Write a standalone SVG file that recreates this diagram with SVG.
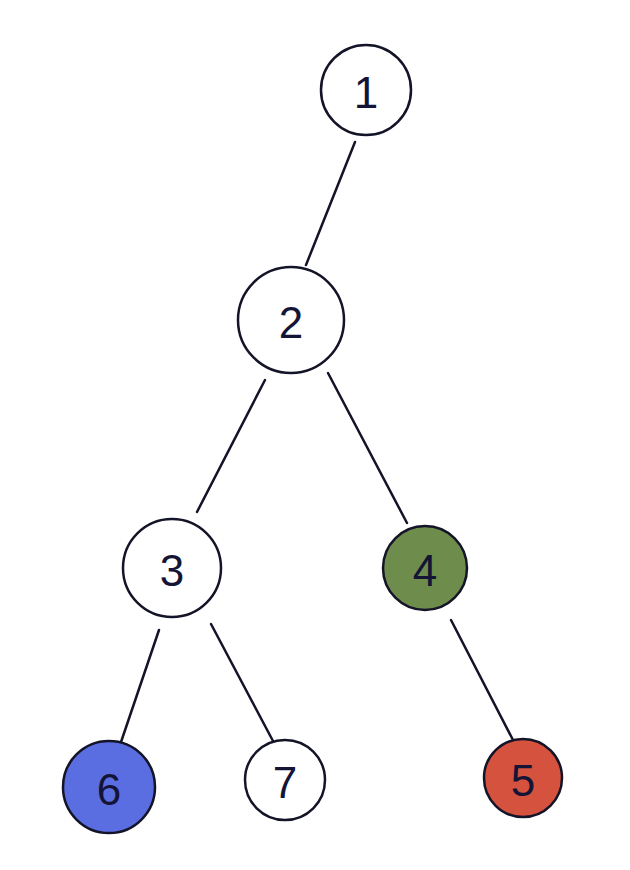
<svg xmlns="http://www.w3.org/2000/svg" width="630" height="870" viewBox="0 0 630 870">
<style>
.n{stroke:#141428;stroke-width:2.5}
.t{font-family:"Liberation Sans",sans-serif;font-size:44px;fill:#141436;text-anchor:middle;dominant-baseline:central}
.c line{stroke:#141428;stroke-width:2.5;stroke-linecap:round}
</style>
<rect width="630" height="870" fill="#fff"/>
<g class="c" id="connectors">
<line x1="355" y1="142" x2="306" y2="265"/>
<line x1="265" y1="380" x2="197" y2="512"/>
<line x1="328" y1="373" x2="407" y2="523"/>
<line x1="159" y1="630" x2="120" y2="745"/>
<line x1="211" y1="624" x2="273" y2="741"/>
<line x1="451" y1="620" x2="513" y2="740"/>
</g>
<g id="n1"><circle class="n" cx="366" cy="90" r="45" fill="#fff"/><text class="t" x="366" y="92">1</text></g>
<g id="n2"><circle class="n" cx="291" cy="320" r="53" fill="#fff"/><text class="t" x="291" y="322">2</text></g>
<g id="n3"><circle class="n" cx="172" cy="568" r="49" fill="#fff"/><text class="t" x="172" y="570">3</text></g>
<g id="n4"><circle class="n" cx="425" cy="568" r="42" fill="#6e8c4c"/><text class="t" x="425" y="570">4</text></g>
<g id="n6"><circle class="n" cx="109" cy="787" r="46" fill="#5a6ee2"/><text class="t" x="109" y="789">6</text></g>
<g id="n7"><circle class="n" cx="285" cy="780" r="40" fill="#fff"/><text class="t" x="285" y="782">7</text></g>
<g id="n5"><circle class="n" cx="523" cy="778" r="39" fill="#d4523e"/><text class="t" x="523" y="780">5</text></g>
</svg>
